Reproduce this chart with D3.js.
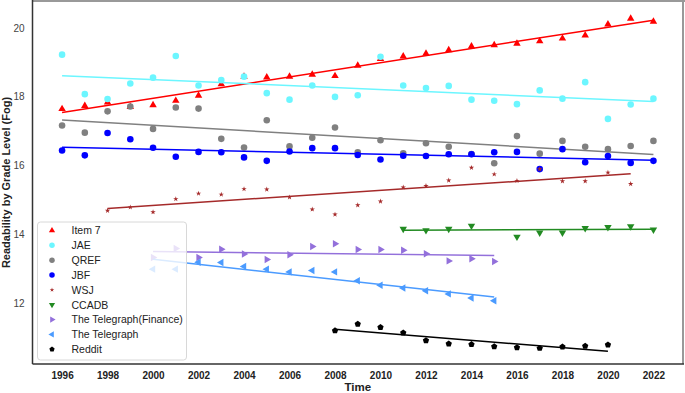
<!DOCTYPE html>
<html>
<head>
<meta charset="utf-8">
<script src="https://cdn.jsdelivr.net/npm/d3@7"></script>
<style>
  body { margin: 0; background: #fff; }
  svg { display: block; font-family: "Liberation Sans", Arial, sans-serif; }
</style>
</head>
<body>
<svg id="chart" width="685" height="393"></svg>
<script>
// readability by grade level (Fog), per source and year
const item7Years = [1996,1997,1998,1999,2000,2001,2002,2003,2004,2005,2006,2007,2008,2009,2010,2011,2012,2013,2014,2015,2016,2017,2018,2019,2020,2021,2022];
const item7 = [17.64,17.73,17.83,17.7,17.75,17.88,18.03,18.36,18.58,18.56,18.58,18.64,18.6,18.9,19.1,19.17,19.25,19.35,19.46,19.5,19.54,19.61,19.69,19.78,20.1,20.27,20.18];

const jaeYears = item7Years;
const jae = [19.22,18.07,17.93,18.38,18.55,19.18,18.32,18.48,18.58,18.1,17.91,18.32,17.99,18.04,19.16,18.32,18.25,18.31,17.91,17.88,17.78,18.18,17.94,18.42,17.35,17.77,17.94];

const qrefYears = item7Years;
const qref = [17.16,16.95,17.57,17.71,17.06,17.68,17.65,16.77,16.52,17.31,16.55,16.8,17.1,16.38,16.73,16.35,16.64,16.54,16.33,16.06,16.85,16.34,16.71,16.54,16.47,16.56,16.71];

const jbfYears = item7Years;
const jbf = [16.43,16.29,16.94,16.76,16.51,16.25,16.39,16.38,16.23,16.13,16.4,16.5,16.5,16.3,16.17,16.28,16.27,16.32,16.32,16.38,16.39,15.89,16.47,16.09,16.27,16.07,16.13];

const wsjYears = [1998,1999,2000,2001,2002,2003,2004,2005,2006,2007,2008,2009,2010,2011,2012,2013,2014,2015,2016,2017,2018,2019,2020,2021];
const wsj = [14.68,14.78,14.64,15.02,15.18,15.15,15.31,15.3,15.07,14.72,14.57,14.84,14.95,15.36,15.4,15.56,15.93,15.74,15.55,15.89,15.54,15.54,15.79,15.46];

const ccadbYears = [2011,2012,2013,2014,2016,2017,2018,2019,2020,2021,2022];
const ccadb = [14.15,14.11,14.15,14.24,13.92,14.04,14.04,14.17,14.2,14.22,14.13];

const finYears = [2000,2001,2002,2003,2004,2005,2006,2007,2008,2009,2010,2011,2012,2013,2014,2015];
const telegraphFinance = [13.32,13.58,13.32,13.56,13.42,13.26,13.4,13.64,13.72,13.55,13.55,13.53,13.43,13.22,13.28,13.2];

const telYears = finYears;
const telegraph = [12.98,12.98,13.18,13.17,13.06,12.98,12.9,12.94,12.9,12.64,12.51,12.43,12.35,12.26,12.14,12.06];

const redditYears = [2008,2009,2010,2011,2012,2013,2014,2015,2016,2017,2018,2019,2020];
const reddit = [11.19,11.38,11.29,11.13,10.9,10.81,10.79,10.73,10.7,10.68,10.72,10.74,10.78];

const xTicks = [1996,1998,2000,2002,2004,2006,2008,2010,2012,2014,2016,2018,2020,2022];
const yTicks = [12,14,16,18,20];

// pentagon marker for reddit
const symbolPentagon = {
  draw(ctx, size) {
    const r = Math.sqrt(size / 2.3776);
    for (let k = 0; k < 5; k++) {
      const a = -Math.PI / 2 + k * 2 * Math.PI / 5;
      if (k === 0) ctx.moveTo(r * Math.cos(a), r * Math.sin(a));
      else ctx.lineTo(r * Math.cos(a), r * Math.sin(a));
    }
    ctx.closePath();
  }
};

const series = [
  { name: 'Item 7', years: item7Years, values: item7, color: '#ff0000', type: d3.symbolTriangle, size: 24, rot: 0 },
  { name: 'JAE', years: jaeYears, values: jae, color: '#6cf6ff', type: d3.symbolCircle, size: 34, rot: 0 },
  { name: 'QREF', years: qrefYears, values: qref, color: '#808080', type: d3.symbolCircle, size: 34, rot: 0 },
  { name: 'JBF', years: jbfYears, values: jbf, color: '#0000ff', type: d3.symbolCircle, size: 34, rot: 0 },
  { name: 'WSJ', years: wsjYears, values: wsj, color: '#a52a2a', type: d3.symbolStar, size: 9, rot: 0 },
  { name: 'CCADB', years: ccadbYears, values: ccadb, color: '#228b22', type: d3.symbolTriangle, size: 24, rot: 180 },
  { name: 'The Telegraph(Finance)', years: finYears, values: telegraphFinance, color: '#9370db', type: d3.symbolTriangle, size: 24, rot: 90 },
  { name: 'The Telegraph', years: telYears, values: telegraph, color: '#4b9bff', type: d3.symbolTriangle, size: 24, rot: -90 },
  { name: 'Reddit', years: redditYears, values: reddit, color: '#000000', type: symbolPentagon, size: 26, rot: 0 }
];

const svg = d3.select('#chart');
const margin = { top: 1, right: 2, bottom: 29, left: 32.5 };
const width = 685, height = 393;

const x = d3.scaleLinear().domain([1994.7, 2023.3]).range([margin.left, width - margin.right]);
const y = d3.scaleLinear().domain([10.22, 20.78]).range([height - margin.bottom, margin.top]);

// least squares trend for each series
let fit = (xs, ys) => {
  const mx = d3.mean(xs), my = d3.mean(ys);
  const b = d3.sum(xs, (v, i) => (v - mx) * (ys[i] - my)) / d3.sum(xs, v => (v - mx) * (v - mx));
  return v => my + b * (v - mx);
};

const plot = svg.append('g');
series.forEach(s => {
  const pts = s.years.map((yr, i) => ({ yr: yr, v: s.values[i] }));
  plot.append('g').selectAll('path').data(pts).enter().append('path')
    .attr('d', d3.symbol().type(s.type).size(s.size))
    .attr('transform', d => 'translate(' + x(d.yr) + ',' + y(d.v) + ') rotate(' + s.rot + ')')
    .attr('fill', s.color);
  const f = fit(s.years, s.values);
  const ends = d3.extent(s.years);
  plot.append('line')
    .attr('x1', x(ends[0])).attr('y1', y(f(ends[0])))
    .attr('x2', x(ends[1])).attr('y2', y(f(ends[1])))
    .attr('stroke', s.color)
    .attr('stroke-width', 1.5);
});

// axes without tick marks
const xAxis = svg.append('g')
  .attr('transform', 'translate(0,' + (height - margin.bottom) + ')')
  .call(d3.axisBottom(x).tickValues(xTicks).tickFormat(d3.format('d')).tickSize(0).tickPadding(8));
xAxis.select('.domain').remove();
xAxis.selectAll('text').attr('font-size', 10).attr('font-weight', 'bold').attr('fill', '#222')
  .attr('font-family', '"Liberation Sans", Arial, sans-serif');

const yAxis = svg.append('g')
  .attr('transform', 'translate(' + margin.left + ',0)')
  .call(d3.axisLeft(y).tickValues(yTicks).tickSize(0).tickPadding(8));
yAxis.select('.domain').remove();
yAxis.selectAll('text').attr('font-size', 10).attr('fill', '#444')
  .attr('font-family', '"Liberation Sans", Arial, sans-serif');

// frame: dark left/bottom, grey top/right
svg.append('line').attr('x1', x.range()[1]).attr('x2', x.range()[1]).attr('y1', 0).attr('y2', y.range()[0])
  .attr('stroke', '#999').attr('stroke-width', 2);
svg.append('line').attr('x1', margin.left).attr('x2', width).attr('y1', 1).attr('y2', 1)
  .attr('stroke', '#999').attr('stroke-width', 2);
svg.append('line').attr('x1', margin.left).attr('x2', margin.left).attr('y1', 0).attr('y2', y.range()[0])
  .attr('stroke', '#333').attr('stroke-width', 1.5);
svg.append('line').attr('x1', margin.left).attr('x2', x.range()[1] + 1).attr('y1', y.range()[0]).attr('y2', y.range()[0])
  .attr('stroke', '#333').attr('stroke-width', 1.5);

// axis titles
svg.append('text')
  .attr('x', (margin.left + x.range()[1]) / 2)
  .attr('y', 391)
  .attr('text-anchor', 'middle')
  .attr('font-size', 11.5)
  .attr('font-weight', 'bold')
  .attr('fill', '#222')
  .text('Time');

svg.append('text')
  .attr('transform', 'translate(10,' + (y.range()[0] + y.range()[1]) / 2 + ') rotate(-90)')
  .attr('text-anchor', 'middle')
  .attr('font-size', 11)
  .attr('font-weight', 'bold')
  .attr('fill', '#222')
  .text('Readability by Grade Level (Fog)');

// legend
const legend = svg.append('g').attr('transform', 'translate(37.5,222)');
legend.append('rect')
  .attr('width', 149).attr('height', 138).attr('rx', 3)
  .attr('fill', 'rgba(255,255,255,0.8)')
  .attr('stroke', '#d8d8d8').attr('stroke-width', 1);
series.forEach((s, i) => {
  const row = legend.append('g').attr('transform', 'translate(0,' + (8.5 + i * 14.85) + ')');
  row.append('path')
    .attr('d', d3.symbol().type(s.type).size(s.size * 0.7))
    .attr('transform', 'translate(14.5,0) rotate(' + s.rot + ')')
    .attr('fill', s.color);
  row.append('text')
    .attr('x', 34).attr('y', 3.8)
    .attr('font-size', 10.5)
    .attr('fill', '#222')
    .text(s.name);
});
</script>
</body>
</html>
